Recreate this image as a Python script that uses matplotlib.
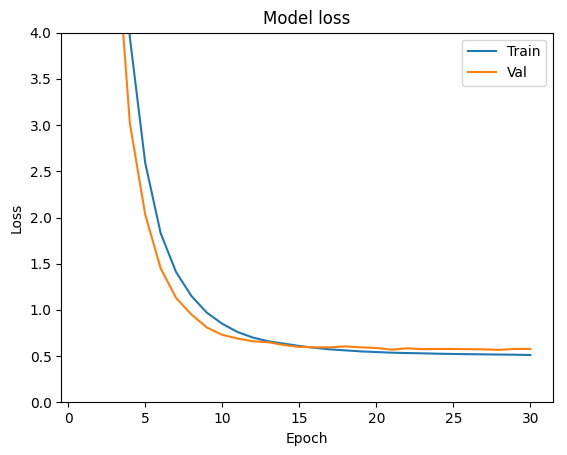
import numpy as np
import matplotlib
matplotlib.use("Agg")
import matplotlib.pyplot as plt

# loss per epoch
epochs = list(range(1, 31))
train_loss = [14.0, 9.0, 6.5, 3.95, 2.59, 1.83, 1.41, 1.15, 0.97, 0.85,
              0.76, 0.70, 0.66, 0.635, 0.61, 0.59, 0.573, 0.562, 0.551, 0.544,
              0.537, 0.533, 0.530, 0.526, 0.523, 0.521, 0.519, 0.517, 0.515, 0.512]
val_loss = [11.0, 7.5, 5.27, 3.02, 2.03, 1.45, 1.13, 0.95, 0.81, 0.73,
            0.69, 0.66, 0.65, 0.62, 0.60, 0.595, 0.595, 0.605, 0.595, 0.588,
            0.57, 0.585, 0.575, 0.578, 0.577, 0.575, 0.573, 0.568, 0.578, 0.578]

fig = plt.figure(figsize=(5.67, 4.55), dpi=100)
ax = fig.add_axes([0.1081, 0.1158, 0.8667, 0.8123])

ax.plot(epochs, train_loss, label='Train')
ax.plot(epochs, val_loss, label='Val')

ax.set_ylim(0, 4)
ax.set_title('Model loss')
ax.set_xlabel('Epoch')
ax.set_ylabel('Loss')
ax.legend(loc='upper right')

fig.savefig('out.png', dpi=100)
